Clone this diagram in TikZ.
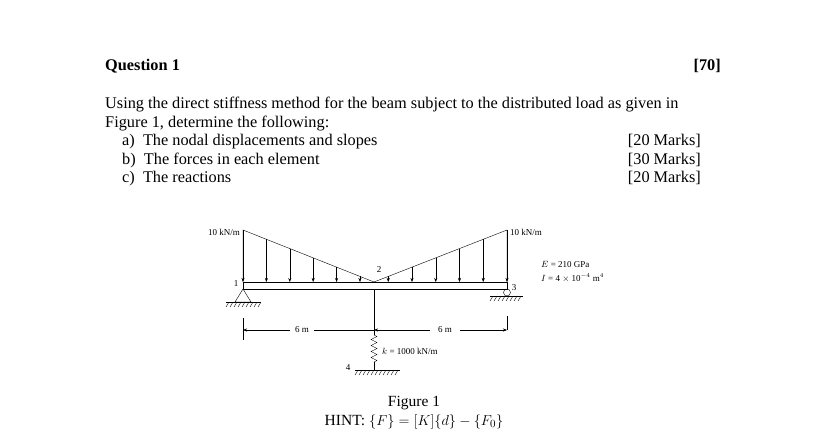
\documentclass[tikz,border=0pt]{standalone}
\usepackage{fontspec}
\setmainfont{Liberation Serif}
\usetikzlibrary{patterns,decorations.pathmorphing,arrows.meta}
\begin{document}
\begin{tikzpicture}[x=1pt,y=-1pt,
  txt/.style={anchor=base west,inner sep=0pt,font=\fontsize{16.3}{19}\selectfont},
  rtxt/.style={anchor=base east,inner sep=0pt,font=\fontsize{16.3}{19}\selectfont},
  small/.style={inner sep=1pt,font=\fontsize{9}{10}\selectfont},
  ld/.style={-{Stealth[length=4pt,width=3pt]},thin},
  hatch/.style={thin}]
\useasboundingbox (0,0) rectangle (828,447);
\node[txt,font=\bfseries\fontsize{16.3}{19}\selectfont] (q) at (105,70) {Question 1};
\node[rtxt,font=\bfseries\fontsize{16.3}{19}\selectfont] (m) at (721,70) {[70]};
\node[txt] (l1) at (105,108) {Using the direct stiffness method for the beam subject to the distributed load as given in};
\node[txt] (l2) at (105,127) {Figure 1, determine the following:};
\node[txt] (a) at (122,145) {a)\enspace The nodal displacements and slopes};
\node[txt] (b) at (122,164) {b)\enspace The forces in each element};
\node[txt] (c) at (122,182) {c)\enspace The reactions};
\node[rtxt] (ma) at (701,145) {[20 Marks]};
\node[rtxt] (mb) at (701,164) {[30 Marks]};
\node[rtxt] (mc) at (701,182) {[20 Marks]};
% beam
\draw[thin] (243,282) rectangle (507,289);
\coordinate (n1) at (243,289);
\coordinate (n2) at (374,282);
\coordinate (n3) at (507,289);
% load
\draw[thin] (243,282) -- (243,230) -- (374,282) -- (507,230) -- (507,282);
\foreach \i in {0,...,5} {
  \pgfmathsetmacro\xx{243+\i*131/5.6}
  \pgfmathsetmacro\yy{230+52*(\xx-243)/131}
  \draw[ld] (\xx,\yy) -- (\xx,282);
}
\foreach \i in {0,...,5} {
  \pgfmathsetmacro\xx{507-\i*133/5.6}
  \pgfmathsetmacro\yy{230+52*(507-\xx)/133}
  \draw[ld] (\xx,\yy) -- (\xx,282);
}
\node[small,anchor=east] (lL) at (241,232) {10 kN/m};
\node[small,anchor=west] (lR) at (509,232) {10 kN/m};
\node[small,anchor=base west,inner sep=0pt] (E1) at (541,267) {$E$ = 210 GPa};
\node[small,anchor=base west,inner sep=0pt] (E2) at (541,281) {$I$ = 4 $\times$ 10$^{-4}$ m$^4$};
\node[small] at (236,284) {1};
\node[small] at (379,270) {2};
\node[small] at (514,288) {3};
% pin support
\draw[thin] (243,289) -- (235,302) -- (251,302) -- cycle;
\draw[thin] (226,302) -- (261,302);
\foreach \x in {226,230,...,258} \draw[hatch] (\x+3,302) -- (\x,307);
% roller
\draw[thin] (507,292.5) circle (3.5);
\draw[thin] (490,296) -- (523,296);
\foreach \x in {490,494,...,520} \draw[hatch] (\x+3,296) -- (\x,301);
% spring
\draw[thin] (374,289) -- (374,335);
\draw[thin,decorate,decoration={zigzag,amplitude=3pt,segment length=6pt}] (374,335) -- (374,362);
\draw[thin] (374,362) -- (374,370);
\draw[thin] (355,370) -- (400,370);
\foreach \x in {355,359,...,396} \draw[hatch] (\x+3,370) -- (\x,375);
\node[small] at (348,368) {4};
\node[small,anchor=west] (k) at (381,351) {$k$ = 1000 kN/m};
% dimensions
\draw[thin] (243,318) -- (243,340);
\draw[thin] (507,316) -- (507,330);
\draw[ld] (290,330) -- (243,330);
\draw[thin] (314,330) -- (374,330);
\draw[ld] (430,330) -- (374,330);
\draw[ld] (460,330) -- (507,330);
\node[small] at (302,330) {6 m};
\node[small] at (445,330) {6 m};
\node[anchor=base,inner sep=0pt,font=\fontsize{15.5}{18}\selectfont] (f) at (414,406) {Figure 1};
\node[anchor=base,inner sep=0pt,font=\fontsize{15.5}{18}\selectfont] (h) at (414,425) {HINT: $\{F\}=[K]\{d\}-\{F_0\}$};
\end{tikzpicture}
\end{document}
